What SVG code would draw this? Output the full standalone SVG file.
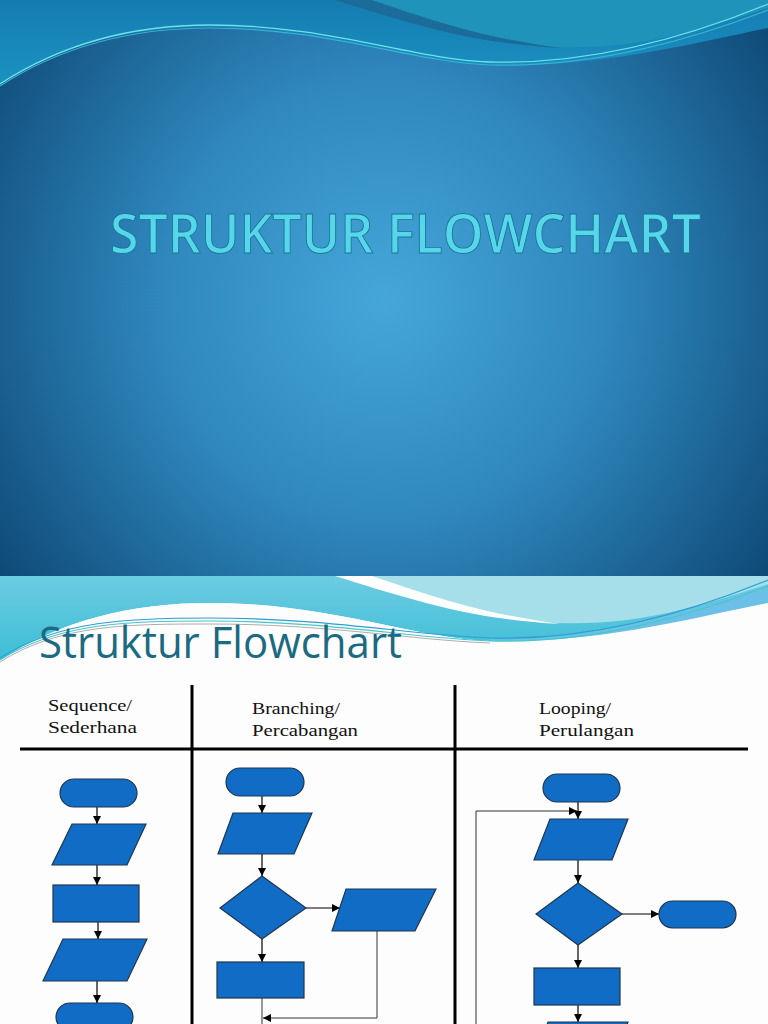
<svg xmlns="http://www.w3.org/2000/svg" width="768" height="1024" viewBox="0 0 768 1024">
<defs>
<radialGradient id="bg1" gradientUnits="userSpaceOnUse" cx="384" cy="300" r="500">
<stop offset="0" stop-color="#45a6da"/>
<stop offset="0.45" stop-color="#2f87bd"/>
<stop offset="1" stop-color="#0b4370"/>
</radialGradient>
<linearGradient id="band1" x1="0" y1="0" x2="0" y2="1">
<stop offset="0" stop-color="#157cb0"/>
<stop offset="1" stop-color="#1b92c2"/>
</linearGradient>
<linearGradient id="band2" x1="0" y1="0" x2="0" y2="1">
<stop offset="0" stop-color="#6ccbe2"/>
<stop offset="1" stop-color="#3dbed6"/>
</linearGradient>
<marker id="arr" markerUnits="userSpaceOnUse" markerWidth="8" markerHeight="8" refX="8" refY="4" orient="auto">
<path d="M0,0 L8,4 L0,8 Z" fill="#000"/>
</marker>
<style>
.shape{fill:#106cc4;stroke:#1f3650;stroke-width:1.2}
.conn{stroke:#000;stroke-width:1.2;fill:none}
.thin{stroke:#333;stroke-width:1;fill:none}
.grid{stroke:#000;stroke-width:3;fill:none}
.hdr{font-family:"Liberation Serif","DejaVu Serif",serif;font-size:17px;fill:#111}
</style>
</defs>

<!-- Slide 1 -->
<g id="slide1">
<rect x="0" y="0" width="768" height="576" fill="url(#bg1)"/>
<path d="M0,0 L768,0 L768,28 C700,42 600,68 490,65 C410,62 330,27 210,27 C130,27 60,45 0,84 Z" fill="url(#band1)"/>
<path d="M343,0 C400,18 470,42 556,47 C640,50 700,30 768,8 L768,0 Z" fill="#2093bb"/>
<path d="M335,0 C400,20 470,44 560,48 C470,36 415,14 372,0 Z" fill="#1c6898" opacity="0.9"/>
<path d="M0,84 C60,45 130,25 210,25 C330,25 410,59 490,62 C600,65 700,32 768,4" stroke="#6fe2e8" stroke-width="1.3" fill="none"/>
<path d="M0,86 C60,47 130,28 210,28 C330,28 410,62 490,65 C600,68 700,36 768,10" stroke="#35b2d8" stroke-width="1.2" fill="none"/>
<text x="110" y="253" font-family="'Open Sans','Noto Sans',sans-serif" font-size="54" font-weight="600" fill="#55d6ea" stroke="#1b7694" stroke-width="0.9" textLength="591" lengthAdjust="spacingAndGlyphs">STRUKTUR FLOWCHART</text>
</g>

<!-- Slide 2 -->
<g id="slide2" transform="translate(0,576)">
<rect x="0" y="0" width="768" height="448" fill="#fdfdfd"/>
<path d="M0,0 L768,0 L768,28 C700,42 600,68 490,65 C410,62 330,27 210,27 C130,27 60,45 0,84 Z" fill="url(#band2)"/>
<path d="M343,0 C400,18 470,42 556,47 C640,50 700,30 768,8 L768,0 Z" fill="#a6dfea"/>
<path d="M490,63 C600,66 700,30 768,10 L768,28 C700,42 600,68 490,65 Z" fill="#6cc0e8"/>
<path d="M335,0 C400,20 470,44 560,48 C470,36 415,14 372,0 Z" fill="#ffffff"/>
<path d="M0,85 C60,45 130,27 210,27 C330,27 410,62 490,65 C600,68 700,40 768,27 L768,448 L0,448 Z" fill="#fdfdfd"/>
<path d="M0,82 C60,44 130,42 210,42 C330,42 410,59 490,62 C600,65 700,32 768,4" stroke="#2e9fd0" stroke-width="1.2" fill="none"/>
<path d="M0,84 C60,46 130,45 210,45 C330,45 410,62 490,65 C600,68 700,36 768,10" stroke="#46c7c9" stroke-width="1.2" fill="none"/>
<path d="M0,86 C60,48 130,48 210,48 C330,48 410,64 490,67" stroke="#999" stroke-width="0.8" fill="none"/>
<text x="39" y="82" font-family="'Open Sans','Noto Sans',sans-serif" font-size="43" fill="#1a6a82" textLength="363" lengthAdjust="spacingAndGlyphs">Struktur Flowchart</text>
</g>

<!-- Table grid -->
<g id="table">
<line class="grid" x1="192" y1="685" x2="192" y2="1024"/>
<line class="grid" x1="455" y1="685" x2="455" y2="1024"/>
<line class="grid" x1="20" y1="749" x2="748" y2="749"/>
<text class="hdr" x="48" y="711" textLength="84" lengthAdjust="spacingAndGlyphs">Sequence/</text>
<text class="hdr" x="48" y="733" textLength="89" lengthAdjust="spacingAndGlyphs">Sederhana</text>
<text class="hdr" x="252" y="714" textLength="88" lengthAdjust="spacingAndGlyphs">Branching/</text>
<text class="hdr" x="252" y="736" textLength="106" lengthAdjust="spacingAndGlyphs">Percabangan</text>
<text class="hdr" x="539" y="714" textLength="72" lengthAdjust="spacingAndGlyphs">Looping/</text>
<text class="hdr" x="539" y="736" textLength="95" lengthAdjust="spacingAndGlyphs">Perulangan</text>
</g>

<!-- Connectors -->
<g id="connectors">
<line class="conn" x1="97" y1="807" x2="97" y2="824" marker-end="url(#arr)"/>
<line class="conn" x1="97" y1="865" x2="97" y2="885" marker-end="url(#arr)"/>
<line class="conn" x1="98" y1="922" x2="98" y2="939" marker-end="url(#arr)"/>
<line class="conn" x1="97" y1="981" x2="97" y2="1003" marker-end="url(#arr)"/>

<line class="conn" x1="262" y1="796" x2="262" y2="813" marker-end="url(#arr)"/>
<line class="conn" x1="262" y1="854" x2="262" y2="876" marker-end="url(#arr)"/>
<line class="conn" x1="306" y1="908" x2="340" y2="908" marker-end="url(#arr)"/>
<line class="conn" x1="262" y1="939" x2="262" y2="962" marker-end="url(#arr)"/>
<polyline class="thin" points="377,931 377,1018 263,1018" marker-end="url(#arr)"/>
<line class="thin" x1="262" y1="998" x2="262" y2="1024"/>

<line class="conn" x1="578" y1="802" x2="578" y2="819" marker-end="url(#arr)"/>
<polyline class="thin" points="476,1024 476,811 577,811" marker-end="url(#arr)"/>
<line class="conn" x1="578" y1="860" x2="578" y2="883" marker-end="url(#arr)"/>
<line class="conn" x1="622" y1="914" x2="659" y2="914" marker-end="url(#arr)"/>
<line class="conn" x1="578" y1="945" x2="578" y2="968" marker-end="url(#arr)"/>
<line class="conn" x1="578" y1="1005" x2="578" y2="1022" marker-end="url(#arr)"/>
</g>

<!-- Sequence column -->
<g id="seq-start"><rect class="shape" x="60" y="779" width="77" height="28" rx="14"/></g>
<g id="seq-input"><polygon class="shape" points="72,824 146,824 127,865 52,865"/></g>
<g id="seq-process"><rect class="shape" x="53" y="885" width="86" height="37"/></g>
<g id="seq-output"><polygon class="shape" points="63,939 147,939 127,981 43,981"/></g>
<g id="seq-end"><rect class="shape" x="56" y="1003" width="77" height="28" rx="14"/></g>

<!-- Branching column -->
<g id="br-start"><rect class="shape" x="226" y="768" width="78" height="28" rx="14"/></g>
<g id="br-input"><polygon class="shape" points="233,813 312,813 294,854 218,854"/></g>
<g id="br-decision"><polygon class="shape" points="262,876 306,908 262,939 220,908"/></g>
<g id="br-output"><polygon class="shape" points="346,889 436,889 415,931 332,931"/></g>
<g id="br-process"><rect class="shape" x="217" y="962" width="87" height="36"/></g>

<!-- Looping column -->
<g id="lp-start"><rect class="shape" x="543" y="774" width="77" height="28" rx="14"/></g>
<g id="lp-input"><polygon class="shape" points="550,819 628,819 612,860 534,860"/></g>
<g id="lp-decision"><polygon class="shape" points="578,883 622,914 578,945 536,914"/></g>
<g id="lp-end"><rect class="shape" x="659" y="901" width="77" height="27" rx="13.5"/></g>
<g id="lp-process"><rect class="shape" x="534" y="968" width="86" height="37"/></g>
<g id="lp-output"><polygon class="shape" points="548,1022 628,1022 612,1063 532,1063"/></g>
</svg>
